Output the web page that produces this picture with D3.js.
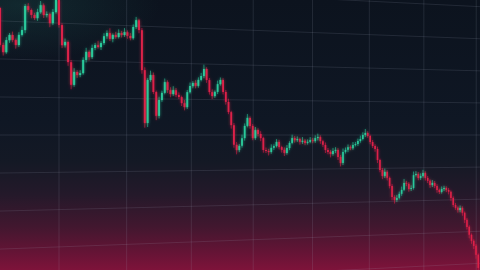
<!DOCTYPE html>
<html>
<head>
<meta charset="utf-8">
<script src="https://cdn.jsdelivr.net/npm/d3@7"></script>
<style>
  html, body { margin: 0; padding: 0; background: #0d141f; overflow: hidden; }
  svg { display: block; }
</style>
</head>
<body>
<svg id="canvas"></svg>
<script>
// closing prices, one per candle, left to right
let closes = [
  123.7,121.8,125.0,126.4,125.1,123.8,126.5,127.8,134.2,133.2,131.9,131.1,132.7,134.6,132.0,132.3,129.9,132.9,136.2,129.5,
  124.1,125.0,119.6,113.5,117.0,116.2,116.7,120.3,122.5,121.1,123.6,124.4,123.9,125.0,126.9,127.8,126.2,127.3,126.8,127.9,
  127.4,128.2,127.2,126.6,129.7,131.6,128.9,117.9,103.3,115.2,116.6,111.9,105.3,109.7,111.7,114.7,112.5,111.4,112.5,111.2,
  110.6,108.9,107.8,112.0,113.7,114.6,113.8,115.5,116.6,118.6,115.5,112.1,111.0,112.2,114.4,115.6,112.2,109.4,106.5,102.8,
  97.2,95.7,96.9,99.1,102.6,104.9,102.6,99.1,101.4,100.3,99.1,95.7,95.4,95.1,96.3,96.8,98.0,96.5,95.7,94.8,
  96.2,97.7,99.1,98.5,98.8,98.0,98.3,97.7,98.0,98.5,98.2,99.1,99.4,98.2,97.1,95.6,95.0,94.4,95.3,95.6,
  93.5,91.7,95.0,95.6,96.4,96.1,97.0,97.3,98.2,98.8,100.0,100.6,99.7,97.9,96.7,95.8,92.5,89.5,87.7,88.9,
  87.1,84.6,81.3,80.4,81.0,82.2,83.4,85.5,85.2,83.6,83.9,87.8,88.1,86.9,87.5,88.4,86.9,86.0,84.7,85.3,
  84.4,83.1,82.5,83.4,83.7,83.1,82.5,80.6,78.4,77.5,76.8,77.4,75.9,73.7,71.5,69.0,67.1,65.5,62.7,58.6
]
let firstOpen = 133.4

// how far the wicks reach past the body
let wickHi = [
  0.3,0.6,0.8,0.5,0.9,0.4,0.7,1.0,0.5,0.8,0.4,0.6,0.9,1.1,0.5,0.7,0.4,0.8,1.2,0.6,
  0.5,0.9,0.4,0.6,1.0,0.5,0.8,0.7,1.1,0.4,0.9,0.6,1.2,0.5,0.8,0.7,1.3,0.4,0.9,1.0,
  0.6,1.1,0.5,0.8,0.7,0.9,0.4,0.6,0.8,0.5,1.2,0.7,0.4,0.9,0.6,1.0,0.5,0.8,1.1,0.6,
  0.7,0.4,0.9,0.6,1.0,0.5,0.8,0.7,0.9,1.2,0.5,0.6,0.8,0.4,1.0,0.7,0.5,0.6,0.9,0.4,
  0.6,0.8,0.5,1.0,0.7,1.1,0.4,0.6,0.9,0.5,0.8,0.4,0.7,0.6,1.0,0.5,0.8,0.6,0.4,0.7,
  0.9,0.5,1.0,0.6,0.8,0.4,1.1,0.5,0.7,0.9,0.6,0.8,1.0,0.5,0.4,0.7,0.6,0.5,0.9,0.8,
  0.5,0.6,1.0,0.7,0.8,0.5,0.9,0.6,0.7,1.0,0.8,1.2,0.5,0.4,0.6,0.5,0.7,0.4,0.6,1.0,
  0.5,0.4,0.6,0.5,0.9,0.7,1.0,1.2,0.6,0.5,0.8,1.1,0.9,0.6,0.8,1.0,0.5,0.6,0.4,0.9,
  0.6,0.5,0.4,0.8,0.7,0.5,0.6,0.4,0.5,0.6,0.4,0.8,0.5,0.4,0.6,0.5,0.4,0.5,0.6,0.4
]
let wickLo = [
  0.5,0.9,0.4,0.7,0.6,1.0,0.5,0.4,0.8,0.6,0.9,0.5,0.7,0.4,0.8,0.6,1.1,0.5,0.4,0.7,
  0.8,0.6,1.0,1.2,0.5,0.8,0.6,0.4,0.7,0.9,0.5,0.6,0.4,0.8,0.5,0.7,0.6,0.9,0.5,0.4,
  0.7,0.5,0.8,0.6,0.4,0.5,0.9,1.0,1.3,1.1,0.5,0.6,1.2,0.7,0.5,0.4,0.8,0.9,0.5,0.7,
  0.6,0.8,0.9,0.5,0.4,0.6,0.7,0.5,0.4,0.6,0.8,0.7,0.9,0.5,0.6,0.4,0.7,0.8,0.6,1.0,
  0.8,1.2,0.6,0.5,0.7,0.4,0.8,0.6,0.5,0.7,0.9,0.8,0.6,1.0,0.5,0.6,0.4,0.7,0.8,0.9,
  0.5,0.6,0.4,0.7,0.5,0.8,0.6,0.7,0.5,0.4,0.6,0.5,0.7,0.8,0.6,0.9,0.7,1.0,0.5,0.6,
  0.9,1.0,0.6,0.5,0.7,0.6,0.5,0.4,0.6,0.5,0.4,0.6,0.5,0.7,0.6,0.8,0.9,0.7,1.0,0.6,
  0.8,0.7,1.0,1.1,0.6,0.5,0.6,0.4,0.7,0.8,0.6,0.5,0.4,0.7,0.6,0.5,0.8,0.7,0.9,0.6,
  0.7,0.8,0.6,0.5,0.6,0.7,0.8,0.9,0.7,0.6,0.8,0.7,0.9,1.0,0.8,1.1,0.9,1.0,1.2,1.5
]

let gridPrices = [50, 60, 70, 80, 90, 100, 110, 120, 130, 140, 150, 160]
let gridCols = [-1, 0, 1, 2, 3, 4, 5, 6, 7, 8]

let width = 480
let height = 270

let green = "#2cc99b"
let red = "#dc2249"

// the chart sits on a plane that leans away to the right
let horizon = 135
let originX = 59
let colW = 69.2
let rowH = 37.3
let depth = 0.023

let project = (u, v) => {
  let w = 1 + depth * u
  return [originX + colW * u / w, horizon + rowH * v / w]
}

let step = 0.044
let xScale = d3.scaleLinear()
               .domain([0, closes.length - 1])
               .range([-0.836, -0.836 + step * (closes.length - 1)])
let yScale = d3.scaleLinear()
               .domain([100, 110])
               .range([0, -1])

let candles = closes.map((c, i) => {
  let open = i == 0 ? firstOpen : closes[i - 1]
  return {
    i: i,
    open: open,
    close: c,
    high: Math.max(open, c) + wickHi[i],
    low: Math.min(open, c) - wickLo[i]
  }
})

let canvas = d3.select("#canvas")
               .attr("width", width)
               .attr("height", height)

let defs = canvas.append("defs")

let bg = defs.append("linearGradient")
             .attr("id", "bg")
             .attr("x1", 0).attr("y1", 0)
             .attr("x2", 0).attr("y2", 1)
;[[0, "#0c131e"], [0.45, "#0f1724"], [0.6, "#141925"], [0.72, "#24192a"],
  [0.84, "#42172f"], [0.93, "#631435"], [1, "#7e133a"]].forEach(s => {
  bg.append("stop").attr("offset", s[0]).attr("stop-color", s[1])
})

let glow = defs.append("radialGradient")
               .attr("id", "glow")
               .attr("cx", 0.5).attr("cy", 0.5).attr("r", 0.5)
glow.append("stop").attr("offset", 0).attr("stop-color", "#2a8a7a").attr("stop-opacity", 0.18)
glow.append("stop").attr("offset", 1).attr("stop-color", "#2a8a7a").attr("stop-opacity", 0)

let soft = defs.append("filter")
               .attr("id", "soft")
               .attr("x", "-20%").attr("y", "-20%")
               .attr("width", "140%").attr("height", "140%")
soft.append("feGaussianBlur").attr("in", "SourceGraphic").attr("stdDeviation", 1.8).attr("result", "halo")
soft.append("feComponentTransfer").attr("in", "halo").attr("result", "halo2")
    .append("feFuncA").attr("type", "linear").attr("slope", 0.6)
soft.append("feGaussianBlur").attr("in", "SourceGraphic").attr("stdDeviation", 0.45).attr("result", "core")
let merge = soft.append("feMerge")
merge.append("feMergeNode").attr("in", "halo2")
merge.append("feMergeNode").attr("in", "core")

canvas.append("rect")
      .attr("width", width)
      .attr("height", height)
      .attr("fill", "url(#bg)")

canvas.append("ellipse")
      .attr("cx", 20).attr("cy", 5)
      .attr("rx", 140).attr("ry", 55)
      .attr("fill", "url(#glow)")

// grid
let grid = canvas.append("g")
                 .attr("stroke", "#aab4c8")
                 .attr("stroke-opacity", 0.14)
                 .attr("stroke-width", 1)
                 .attr("fill", "none")

grid.selectAll("line.h")
    .data(gridPrices)
    .enter()
    .append("line")
    .attr("class", "h")
    .each(function (p) {
      let a = project(-1.5, yScale(p))
      let b = project(8, yScale(p))
      d3.select(this).attr("x1", a[0]).attr("y1", a[1]).attr("x2", b[0]).attr("y2", b[1])
    })

grid.selectAll("line.v")
    .data(gridCols)
    .enter()
    .append("line")
    .attr("class", "v")
    .attr("x1", c => project(c, 0)[0])
    .attr("x2", c => project(c, 0)[0])
    .attr("y1", 0)
    .attr("y2", height)

// candles
let bodyHalf = step * 0.34

let bodyPath = d => {
  let u = xScale(d.i)
  let top = project(u, yScale(Math.max(d.open, d.close)))
  let bot = project(u, yScale(Math.min(d.open, d.close)))
  let left = project(u - bodyHalf, 0)[0]
  let right = project(u + bodyHalf, 0)[0]
  let y1 = top[1]
  let y2 = Math.max(bot[1], y1 + 1)
  return "M" + left + "," + y1 + "H" + right + "V" + y2 + "H" + left + "Z"
}

let plot = canvas.append("g").attr("filter", "url(#soft)")

let candle = plot.selectAll("g.candle")
                 .data(candles)
                 .enter()
                 .append("g")
                 .attr("class", "candle")
                 .attr("fill", d => d.close >= d.open ? green : red)
                 .attr("stroke", d => d.close >= d.open ? green : red)

candle.append("line")
      .attr("stroke-width", 0.6)
      .attr("x1", d => project(xScale(d.i), 0)[0])
      .attr("x2", d => project(xScale(d.i), 0)[0])
      .attr("y1", d => project(xScale(d.i), yScale(d.high))[1])
      .attr("y2", d => project(xScale(d.i), yScale(d.low))[1])

candle.append("path")
      .attr("stroke", "none")
      .attr("d", bodyPath)
</script>
</body>
</html>
